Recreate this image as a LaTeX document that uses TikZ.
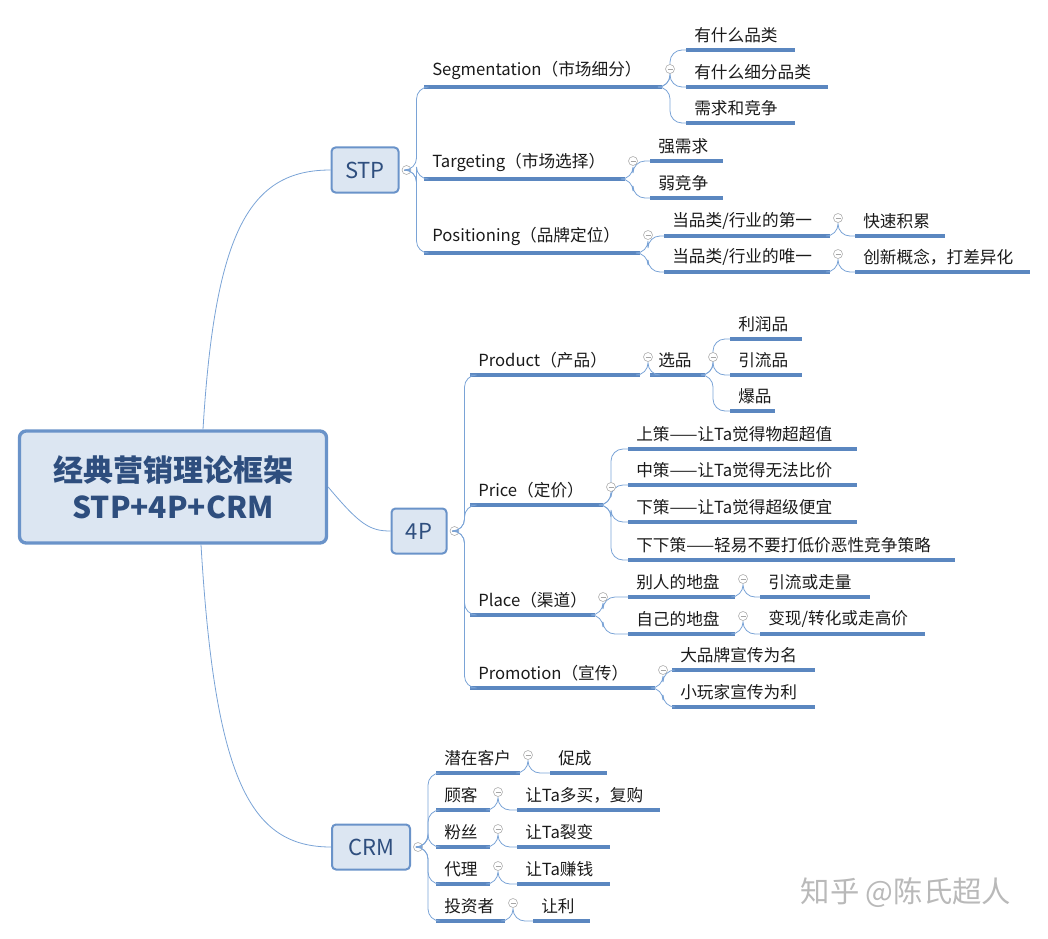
\documentclass[tikz,border=0pt]{standalone}
\usepackage{fontspec}
\setmainfont{Noto Sans CJK SC}
\usetikzlibrary{calc}
\definecolor{ulc}{HTML}{5B87C0}
\definecolor{cnc}{HTML}{7AA3D6}
\definecolor{boxf}{HTML}{DCE6F2}
\definecolor{boxd}{HTML}{6A93C9}
\definecolor{txt}{HTML}{1A1A1A}
\definecolor{roottxt}{HTML}{2E4E7E}
\tikzset{
  ul/.style={anchor=south west,inner xsep=8pt*0.75,inner ysep=5pt,font=\fontsize{12.5}{14}\selectfont,text=txt},
  ulline/.style={ulc,line width=2.3pt},
  conn/.style={cnc,line width=0.6pt,rounded corners=9pt},
  mainbox/.style={draw=boxd,fill=boxf,line width=1.5pt,rounded corners=3pt,font=\fontsize{16.5}{18}\selectfont,text=roottxt},
  coll/.style={draw=gray!70,line width=0.4pt,fill=white}
}
\newcommand{\U}[5]{\node[ul] (#1) at (#2,#3) {#5};
  \coordinate (#1e) at (#2+#4,#3);
  \draw[ulline] (#1.south west) -- (#1e);}
\newcommand{\Cl}[1]{\draw[coll] ($(#1e)+(8,-18)$) circle (4.5);
  \draw[gray!70,line width=0.4pt] ($(#1e)+(5.5,-18)$) -- ($(#1e)+(10.5,-18)$);}
\newcommand{\K}[2]{\draw[conn] (#1e) -- ++(8,0) |- (#2.south west);}
\begin{document}
\begin{tikzpicture}[x=0.75pt,y=-0.75pt]
\useasboundingbox (0,0) rectangle (1048,938);
% root
\node[draw=boxd,fill=boxf,line width=2.5pt,rounded corners=5pt,minimum width=307*0.75pt,minimum height=112*0.75pt,align=center,font=\fontsize{22.5}{28}\selectfont\bfseries,text=roottxt] (root) at (173,487) {经典营销理论框架\\STP+4P+CRM};
\node[mainbox,minimum width=67*0.75pt,minimum height=45*0.75pt] (stp) at (365,170) {STP};
\node[mainbox,minimum width=55*0.75pt,minimum height=45*0.75pt] (fp) at (419,531) {4P};
\node[mainbox,minimum width=78*0.75pt,minimum height=45*0.75pt] (crm) at (371,847) {CRM};
\draw[cnc,line width=0.6pt] ($(root.north)+(30,0)$) .. controls (215,230) and (250,170) .. (stp.west);
\draw[cnc,line width=0.6pt] (root.east) .. controls (360,525) and (370,531) .. (fp.west);
\draw[cnc,line width=0.6pt] ($(root.south)+(28,0)$) .. controls (215,780) and (250,847) .. (crm.west);
\coordinate (stpe) at (stp.east);\coordinate (fpe) at (fp.east);\coordinate (crme) at (crm.east);
\foreach \n in {stp,fp,crm}{\draw[coll] ($(\n e)+(7,0)$) circle (4.5); \draw[gray!70,line width=0.4pt] ($(\n e)+(4.5,0)$) -- ($(\n e)+(9.5,0)$);}
% STP
\U{seg}{424}{87}{238}{Segmentation（市场细分）}
\U{tar}{424}{179}{201}{Targeting（市场选择）}
\U{pos}{424}{253}{216}{Positioning（品牌定位）}
\foreach \c in {seg,tar,pos}{\draw[conn] ($(stpe)+(11,0)$) -- ++(6,0) |- (\c.south west);}
\U{s1}{686}{50}{109}{有什么品类}
\U{s2}{686}{87}{142}{有什么细分品类}
\U{s3}{686}{123}{109}{需求和竞争}
\K{seg}{s1}\K{seg}{s2}\K{seg}{s3}\Cl{seg}
\U{t1}{650}{161}{73}{强需求}
\U{t2}{650}{198}{73}{弱竞争}
\K{tar}{t1}\K{tar}{t2}\Cl{tar}
\U{p1}{664}{236}{166}{当品类/行业的第一}
\U{p2}{664}{272}{166}{当品类/行业的唯一}
\K{pos}{p1}\K{pos}{p2}\Cl{pos}
\U{p1a}{855}{236}{90}{快速积累}
\U{p2a}{855}{272}{175}{创新概念，打差异化}
\K{p1}{p1a}\K{p2}{p2a}\Cl{p1}\Cl{p2}
% 4P
\U{prod}{470}{375}{170}{Product（产品）}
\U{price}{470}{505}{133}{Price（定价）}
\U{place}{470}{615}{125}{Place（渠道）}
\U{promo}{470}{688}{185}{Promotion（宣传）}
\foreach \c in {prod,price,place,promo}{\draw[conn] ($(fpe)+(11,0)$) -- ++(6,0) |- (\c.south west);}
\U{xp}{650}{375}{55}{选品}
\K{prod}{xp}\Cl{prod}
\U{x1}{730}{339}{72}{利润品}
\U{x2}{730}{375}{72}{引流品}
\U{x3}{730}{411}{45}{爆品}
\K{xp}{x1}\K{xp}{x2}\K{xp}{x3}\Cl{xp}
\U{r1}{628}{449}{229}{上策——让Ta觉得物超超值}
\U{r2}{628}{485}{229}{中策——让Ta觉得无法比价}
\U{r3}{628}{522}{229}{下策——让Ta觉得超级便宜}
\U{r4}{628}{560}{327}{下下策——轻易不要打低价恶性竞争策略}
\K{price}{r1}\K{price}{r2}\K{price}{r3}\K{price}{r4}\Cl{price}
\U{l1}{628}{597}{107}{别人的地盘}
\U{l2}{628}{634}{107}{自己的地盘}
\K{place}{l1}\K{place}{l2}\Cl{place}
\U{l1a}{760}{597}{110}{引流或走量}
\U{l2a}{760}{634}{165}{变现/转化或走高价}
\K{l1}{l1a}\K{l2}{l2a}\Cl{l1}\Cl{l2}
\U{m1}{672}{670}{143}{大品牌宣传为名}
\U{m2}{672}{707}{143}{小玩家宣传为利}
\K{promo}{m1}\K{promo}{m2}\Cl{promo}
% CRM
\U{c1}{436}{773}{84}{潜在客户}
\U{c2}{436}{810}{54}{顾客}
\U{c3}{436}{847}{54}{粉丝}
\U{c4}{436}{884}{54}{代理}
\U{c5}{436}{921}{69}{投资者}
\foreach \c in {c1,c2,c3,c4,c5}{\draw[conn] ($(crme)+(11,0)$) -- ++(6,0) |- (\c.south west);}
\U{c1a}{550}{773}{57}{促成}
\U{c2a}{517}{810}{143}{让Ta多买，复购}
\U{c3a}{517}{847}{93}{让Ta裂变}
\U{c4a}{517}{884}{93}{让Ta赚钱}
\U{c5a}{533}{921}{57}{让利}
\foreach \a in {c1,c2,c3,c4,c5}{\K{\a}{\a a}\Cl{\a}}
% watermark
\node[font=\fontsize{22}{26}\selectfont,text=gray!55,anchor=west] (wm) at (796,893) {知乎 @陈氏超人};
\end{tikzpicture}
\end{document}
